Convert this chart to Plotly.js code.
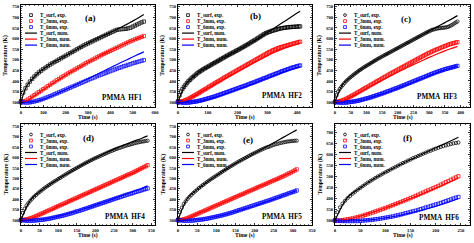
<!DOCTYPE html>
<html><head><meta charset="utf-8">
<script src="https://cdn.plot.ly/plotly-3.0.1.min.js"></script>
<style>html,body{margin:0;padding:0;background:#fff}#chart{width:474px;height:243px}</style>
</head><body><div id="chart"></div>
<script>
// ---- measured temperatures (K) vs time (s), six heat-flux cases ----
// HF1 experiment every 10 s, HF2-HF6 experiment every 5 s; simulation every 25 s

// HF1
const tExpA = [0,10,20,30,40,50,60,70,80,90,100,110,120,130,140,150,160,170,180,190,200,210,220,230,240,250,260,270,280,290,300,310,320,330,340,350,360,370,380,390,400,410,420,430,440,450,460,470,480,490,500,510,520,530,540,550];
const surfExpA = [305,345,365,382,397,410,421,431,440,448, 456,463,470,477,483,489,495,501,507,513, 519,525,531,537,543,549,555,561,567,572, 577,582,587,592,597,602,607,612,617,622, 627,632,637,641,643,644,645,646,648,651, 656,661,666,671,676,680];
const mid3ExpA = [300,302,306,312,319,326,333,340,347,354, 361,368,375,382,389,396,403,409,416,422, 429,435,441,447,453,459,465,471,477,483, 489,494,500,505,511,516,522,527,532,537, 542,547,552,557,562,567,572,577,582,587, 591,596,600,604,608,612];
const mid6ExpA = [300,299,298,298,299,301,303,306,309,312, 316,320,324,328,332,337,341,346,350,355, 359,364,368,373,377,382,386,391,395,400, 404,409,413,417,422,426,430,434,438,442, 446,450,454,458,462,465,469,472,476,479, 483,486,489,492,495,498];
const tNumA = [0,25,50,75,100,125,150,175,200,225,250,275,300,325,350,375,400,425,450,475,500,525,550];
const surfNumA = [300,375,408,435,456,474,490,505,519,534,549,564,578,591,604,616,628,641,654,668,682,697,713];
const mid3NumA = [300,305,322,341,359,376,393,410,427,443,458,473,488,502,516,530,543,556,568,580,591,602,612];
const mid6NumA = [300,299,301,306,314,324,335,347,359,371,384,397,410,423,436,449,462,475,488,500,513,525,537];

// HF2
const tExpB = [0,5,10,15,20,25,30,35,40,45, 50,55,60,65,70,75,80,85,90,95, 100,105,110,115,120,125,130,135,140,145, 150,155,160,165,170,175,180,185,190,195, 200,205,210,215,220,225,230,235,240,245, 250,255,260,265,270,275,280,285,290,295, 300,305,310,315,320,325,330,335,340,345, 350,355,360,365,370,375,380,385,390,395, 400,405,410];
const surfExpB = [305,332,350,362,372,381,390,398,405,412, 418,424,430,436,441,446,450,455,459,463, 467,471,475,479,483,487,491,495,499,503, 507,511,515,519,523,527,530,534,538,542, 545,549,553,557,561,565,569,573,577,582, 586,590,594,599,603,608,612,617,621,625, 628,631,633,636,638,640,642,644,646,648, 649,650,651,652,653,654,654,655,655,656, 656,657,657];
const mid3ExpB = [300,301,302,304,306,309,312,315,319,323, 327,331,335,339,343,347,352,356,360,364, 369,373,377,381,386,390,394,398,402,406, 411,415,419,423,427,431,435,439,443,447, 451,455,459,463,467,471,475,479,483,487, 491,495,499,503,507,511,515,519,523,527, 531,535,538,542,545,548,551,554,556,559, 561,563,565,567,569,571,573,575,577,579, 581,583,585];
const mid6ExpB = [300,300,299,298,298,298,298,298,299,300, 301,302,303,304,306,307,309,311,313,315, 317,319,321,323,325,327,330,332,335,337, 340,342,345,347,350,352,355,357,360,362, 365,367,370,372,375,377,380,383,386,388, 391,393,396,399,402,404,407,410,413,415, 418,421,424,426,429,432,435,437,440,443, 446,448,451,453,456,458,461,463,465,467, 469,471,473];
const tNumB = [0,25,50,75,100,125,150,175,200,225,250,275,300,325,350,375,400,410];
const surfNumB = [300,382,418,446,467,487,507,526,545,565,585,606,628,651,674,697,720,729];
const mid3NumB = [300,308,326,346,366,386,406,425,444,463,482,500,518,535,550,563,574,578];
const mid6NumB = [300,299,301,306,314,324,335,347,360,373,386,400,414,427,440,452,463,467];

// HF3
const tExpC = [0,5,10,15,20,25,30,35,40,45, 50,55,60,65,70,75,80,85,90,95, 100,105,110,115,120,125,130,135,140,145, 150,155,160,165,170,175,180,185,190,195, 200,205,210,215,220,225,230,235,240,245, 250,255,260,265,270,275,280,285,290,295, 300,305,310,315,320,325,330,335,340,345, 350,355,360,365,370,375,380,385,390];
const surfExpC = [305,332,350,362,372,381,390,398,405,412, 418,424,430,436,441,447,452,457,462,467, 471,476,480,485,489,494,498,503,507,511, 515,519,523,527,531,535,539,543,547,551, 555,559,563,567,571,575,579,583,587,591, 595,599,603,607,611,615,619,623,627,631, 634,638,641,643,645,647,648,649,650,651, 652,653,655,658,662,666,671,676,680];
const mid3ExpC = [300,301,302,304,306,309,312,315,319,323, 327,331,335,339,344,348,352,356,361,365, 369,373,378,382,386,390,395,399,403,407, 412,416,420,424,429,433,437,441,445,449, 453,457,461,465,469,473,477,481,485,489, 493,497,501,505,509,513,517,521,525,529, 532,536,539,543,546,549,552,555,558,561, 564,567,570,573,575,577,579,581,583];
const mid6ExpC = [300,300,299,298,298,298,298,298,299,300, 301,302,303,304,306,307,309,311,313,315, 317,319,321,323,326,328,331,333,336,338, 341,343,346,349,352,354,357,360,363,365, 368,371,374,377,380,383,386,389,392,395, 398,401,404,407,410,413,416,419,422,425, 428,431,434,437,440,442,445,447,450,452, 455,457,459,461,463,465,467,469,471];
const tNumC = [0,25,50,75,100,125,150,175,200,225,250,275,300,325,350,375,390];
const surfNumC = [300,385,418,447,471,494,515,535,555,575,595,615,635,655,675,695,708];
const mid3NumC = [300,307,324,344,364,384,403,422,441,459,477,494,511,527,542,555,563];
const mid6NumC = [300,299,301,307,316,327,339,352,366,380,395,410,425,439,452,464,471];

// HF4
const tExpD = [0,5,10,15,20,25,30,35,40,45, 50,55,60,65,70,75,80,85,90,95, 100,105,110,115,120,125,130,135,140,145, 150,155,160,165,170,175,180,185,190,195, 200,205,210,215,220,225,230,235,240,245, 250,255,260,265,270,275,280,285,290,295, 300,305,310,315,320,325,330,335,340];
const surfExpD = [305,335,355,370,382,393,403,412,420,428, 435,442,449,456,462,468,474,480,486,491, 497,502,508,513,519,524,530,535,540,545, 550,555,560,565,570,575,579,584,588,593, 597,601,605,609,613,617,621,625,629,632, 636,640,643,646,649,652,655,658,660,663, 665,668,670,672,674,676,677,679,680];
const mid3ExpD = [300,301,302,304,306,309,312,315,319,323, 327,331,335,339,343,347,351,355,359,363, 367,371,375,379,383,387,391,395,399,403, 407,411,415,419,423,427,431,435,439,443, 447,451,455,459,463,467,471,475,479,483, 487,491,495,499,503,507,511,515,519,523, 527,531,536,540,545,549,554,558,563];
const mid6ExpD = [300,300,299,298,298,298,298,298,299,300, 301,302,303,304,306,307,309,311,313,315, 317,319,321,323,326,328,331,333,336,339, 342,344,347,350,353,356,359,362,365,368, 371,374,377,380,383,386,389,392,395,398, 401,404,407,410,413,416,419,422,425,427, 430,433,436,438,441,444,447,449,452];
const tNumD = [0,25,50,75,100,125,150,175,200,225,250,275,300,325,340];
const surfNumD = [300,395,436,468,497,524,550,574,597,619,640,658,676,692,703];
const mid3NumD = [300,308,326,346,366,386,406,426,446,466,486,506,526,548,560];
const mid6NumD = [300,299,302,309,318,330,343,357,372,387,403,419,436,453,464];

// HF5
const tExpE = [0,5,10,15,20,25,30,35,40,45, 50,55,60,65,70,75,80,85,90,95, 100,105,110,115,120,125,130,135,140,145, 150,155,160,165,170,175,180,185,190,195, 200,205,210,215,220,225,230,235,240,245, 250,255,260,265,270,275,280,285,290,295, 300,305,310];
const surfExpE = [305,338,360,377,390,402,412,421,430,438, 446,454,461,468,475,482,488,495,501,507, 513,519,525,531,537,543,549,555,560,566, 571,577,582,587,592,597,602,607,612,617, 621,626,630,635,639,643,647,650,653,657, 660,663,665,668,670,672,674,676,677,678, 679,680,680];
const mid3ExpE = [300,301,302,304,307,310,314,318,322,326, 330,334,338,342,346,350,354,358,362,366, 370,374,378,382,386,390,394,398,402,406, 410,414,418,422,426,430,434,438,442,446, 450,454,458,462,466,470,474,478,482,486, 490,494,498,502,506,510,514,519,524,528, 533,538,543];
const mid6ExpE = [300,300,299,298,298,298,298,298,299,300, 301,302,303,304,306,307,309,311,313,315, 317,319,321,323,326,328,331,333,336,339, 342,345,348,351,354,357,360,363,366,369, 372,375,378,381,384,387,390,393,396,399, 403,406,409,412,416,419,422,425,429,432, 435,438,442];
const tNumE = [0,25,50,75,100,125,150,175,200,225,250,275,300,310];
const surfNumE = [300,405,446,481,513,543,571,597,621,645,670,696,722,732];
const mid3NumE = [300,310,330,350,370,390,410,430,450,470,490,510,532,541];
const mid6NumE = [300,299,302,308,317,328,341,355,370,385,401,418,435,442];

// HF6
const tExpF = [0,5,10,15,20,25,30,35,40,45, 50,55,60,65,70,75,80,85,90,95, 100,105,110,115,120,125,130,135,140,145, 150,155,160,165,170,175,180,185,190,195, 200,205,210,215,220,225,230,235,240,245];
const surfExpF = [305,338,360,377,390,402,412,422,431,440, 448,456,464,472,479,486,493,500,506,513, 519,525,531,537,543,549,555,561,566,572, 577,583,588,593,598,603,608,613,617,622, 626,630,634,638,641,644,647,650,652,654];
const mid3ExpF = [300,300,301,302,304,306,308,310,313,316, 319,322,326,329,333,337,341,345,349,353, 357,361,366,370,375,379,384,388,393,397, 402,407,412,417,422,427,432,437,442,447, 452,457,463,468,474,479,485,490,496,501];
const mid6ExpF = [300,300,299,298,298,298,298,298,298,298, 299,300,301,302,303,304,306,307,309,311, 313,315,317,319,322,324,327,330,333,336, 339,342,345,348,352,355,359,362,366,369, 373,376,380,384,388,392,396,400,404,407];
const tNumF = [0,25,50,75,100,125,150,175,200,225,245];
const surfNumF = [300,405,448,486,519,549,577,603,630,656,678];
const mid3NumF = [300,306,320,338,357,378,400,423,447,472,493];
const mid6NumF = [300,299,300,304,312,322,335,349,365,383,400];

const panelTags = ['(a)','(b)','(c)','(d)','(e)','(f)'];
const caseNames = ['PMMA  HF1','PMMA  HF2','PMMA  HF3','PMMA  HF4','PMMA  HF5','PMMA  HF6'];
const legendNames = ['T_surf, exp.','T_3mm, exp.','T_6mm, exp.','T_surf, num.','T_3mm, num.','T_6mm, num.'];
const xTitle = 'Time (s)';
const yTitle = 'Temperature (K)';

// ---- page geometry (pixels) ----
const W = 474, H = 243;
const cols = [[21,155],[178,312],[335,470]];
const rows = [[4.6,107],[124,225]];
const px = v => v / W;
const py = v => 1 - v / H;

const panels = [
  {tE:tExpA,s:surfExpA,m3:mid3ExpA,m6:mid6ExpA,tN:tNumA,sN:surfNumA,m3N:mid3NumA,m6N:mid6NumA,xr:[0,600],dx:100,yr:[277,760],sym:'square-open',tag:[90,18],name:[122,98]},
  {tE:tExpB,s:surfExpB,m3:mid3ExpB,m6:mid6ExpB,tN:tNumB,sN:surfNumB,m3N:mid3NumB,m6N:mid6NumB,xr:[0,450],dx:100,yr:[277,760],sym:'square-open',tag:[255,16],name:[282,96]},
  {tE:tExpC,s:surfExpC,m3:mid3ExpC,m6:mid6ExpC,tN:tNumC,sN:surfNumC,m3N:mid3NumC,m6N:mid6NumC,xr:[0,430],dx:50,yr:[277,760],sym:'circle-open',tag:[406,19],name:[437,97]},
  {tE:tExpD,s:surfExpD,m3:mid3ExpD,m6:mid6ExpD,tN:tNumD,sN:surfNumD,m3N:mid3NumD,m6N:mid6NumD,xr:[0,360],dx:50,yr:[277,760],sym:'circle-open',tag:[88,138],name:[125,217]},
  {tE:tExpE,s:surfExpE,m3:mid3ExpE,m6:mid6ExpE,tN:tNumE,sN:surfNumE,m3N:mid3NumE,m6N:mid6NumE,xr:[0,350],dx:50,yr:[277,760],sym:'circle-open',tag:[248,140],name:[282,217]},
  {tE:tExpF,s:surfExpF,m3:mid3ExpF,m6:mid6ExpF,tN:tNumF,sN:surfNumF,m3N:mid3NumF,m6N:mid6NumF,xr:[0,268],dx:50,yr:[280,738],sym:'circle-open',tag:[407,138],name:[439,218]}
];

const FONT = 'Liberation Serif, Times New Roman, serif';
const BLACK = '#000000', RED = '#ff0000', BLUE = '#0000ff';

const data = [];
const layout = {
  width: W, height: H, showlegend: false,
  margin: {l:0, r:0, t:0, b:0},
  paper_bgcolor: '#fff', plot_bgcolor: '#fff',
  font: {family: FONT, color: '#000', weight: 'bold'},
  annotations: [], shapes: []
};

panels.forEach((p, i) => {
  const c = cols[i % 3], r = rows[Math.floor(i / 3)];
  const n = i + 1;
  const xa = 'x' + (n === 1 ? '' : n), ya = 'y' + (n === 1 ? '' : n);
  const axStyle = {
    showline: true, linecolor: '#000', linewidth: 1, mirror: 'ticks',
    ticks: 'inside', ticklen: 2, tickwidth: 0.8, tickcolor: '#000',
    showgrid: false, zeroline: false, fixedrange: true,
    tickfont: {family: FONT, size: 4.6, color: '#000', weight: 'bold'},
    minor: {ticks: 'inside', ticklen: 1, tickwidth: 0.6, tickcolor: '#000'}
  };
  layout['xaxis' + (n === 1 ? '' : n)] = Object.assign({}, axStyle, {
    domain: [px(c[0]), px(c[1])], anchor: ya, range: p.xr, dtick: p.dx, tick0: 0, ticklabelstandoff: 0
  });
  layout['yaxis' + (n === 1 ? '' : n)] = Object.assign({}, axStyle, {
    domain: [py(r[1]), py(r[0])], anchor: xa, range: p.yr, dtick: 50, tick0: 0, ticklabelstandoff: 0
  });

  const exp = (x, y, color, sym) => ({
    x, y, xaxis: xa, yaxis: ya, type: 'scatter', mode: 'markers', cliponaxis: false,
    marker: {symbol: sym, size: 3.3, color, line: {color, width: 0.75}}
  });
  const num = (x, y, color) => ({
    x, y, xaxis: xa, yaxis: ya, type: 'scatter', mode: 'lines',
    line: {color, width: 1.2, shape: 'spline'}
  });
  data.push(exp(p.tE, p.s, BLACK, p.sym), exp(p.tE, p.m3, RED, 'square-open'), exp(p.tE, p.m6, BLUE, 'square-open'));
  data.push(num(p.tN, p.sN, BLACK), num(p.tN, p.m3N, RED), num(p.tN, p.m6N, BLUE));

  // panel tag and case name
  layout.annotations.push({xref:'paper', yref:'paper', x:px(p.tag[0]), y:py(p.tag[1]), text:panelTags[i],
    showarrow:false, xanchor:'center', yanchor:'middle', font:{family:FONT, size:9, weight:'bold', color:'#000'}});
  layout.annotations.push({xref:'paper', yref:'paper', x:px(p.name[0]), y:py(p.name[1]), text:caseNames[i],
    showarrow:false, xanchor:'center', yanchor:'middle', font:{family:FONT, size:7.2, weight:'bold', color:'#000'}});
  // axis titles
  layout.annotations.push({xref:'paper', yref:'paper', x:px((c[0] + c[1]) / 2), y:py(r[1] + 10.3), text:xTitle,
    showarrow:false, xanchor:'center', yanchor:'middle', font:{family:FONT, size:5.6, weight:'bold', color:'#000'}});
  layout.annotations.push({xref:'paper', yref:'paper', x:px(c[0] - 15), y:py((r[0] + r[1]) / 2), text:yTitle, textangle:-90,
    showarrow:false, xanchor:'center', yanchor:'middle', font:{family:FONT, size:5.6, weight:'bold', color:'#000'}});

  // key: three marker rows then three line rows
  const colors = [BLACK, RED, BLUE];
  const syms = [p.sym, 'square-open', 'square-open'];
  for (let k = 0; k < 6; k++) {
    const yy = r[0] + 10.5 + 6 * k;
    const cx = c[0] + 10;
    if (k < 3) {
      layout.shapes.push({type: syms[k].startsWith('circle') ? 'circle' : 'rect', xref:'paper', yref:'paper',
        x0:px(cx - 1.4), x1:px(cx + 1.4), y0:py(yy + 1.4), y1:py(yy - 1.4),
        line:{color:colors[k], width:0.8}});
    } else {
      layout.shapes.push({type:'line', xref:'paper', yref:'paper', x0:px(c[0] + 4), x1:px(c[0] + 16), y0:py(yy), y1:py(yy),
        line:{color:colors[k - 3], width:1.2}});
    }
    layout.annotations.push({xref:'paper', yref:'paper', x:px(c[0] + 17), y:py(yy), text:legendNames[k],
      showarrow:false, xanchor:'left', yanchor:'middle', font:{family:FONT, size:5.1, weight:'bold', color:'#000'}});
  }
});

Plotly.newPlot('chart', data, layout, {staticPlot: true, displayModeBar: false});
</script>
</body></html>
